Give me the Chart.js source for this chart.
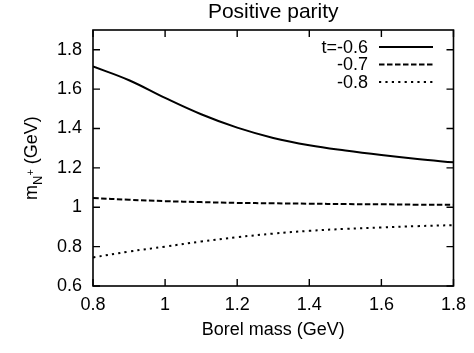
<!DOCTYPE html>
<html>
<head>
<meta charset="utf-8">
<script src="https://cdn.jsdelivr.net/npm/chart.js@4/dist/chart.umd.min.js"></script>
<style>
  html, body { margin: 0; padding: 0; background: #fff; }
  #wrap { width: 474px; height: 353px; }
</style>
</head>
<body>
<div id="wrap"><canvas id="myChart" width="474" height="353"></canvas></div>
<script>
// Borel mass sum rule plot, positive parity

var borel = [0.8, 0.9, 1.0, 1.1, 1.2, 1.3, 1.4, 1.5, 1.6, 1.7, 1.8]
var t06 = [1.715, 1.645, 1.555, 1.472, 1.404, 1.352, 1.315, 1.288, 1.265, 1.245, 1.228]
var t07 = [1.047, 1.038, 1.031, 1.026, 1.022, 1.020, 1.018, 1.016, 1.015, 1.013, 1.012]
var t08 = [0.745, 0.775, 0.800, 0.826, 0.848, 0.866, 0.880, 0.890, 0.897, 0.904, 0.909]

var seriesLabels = ['t=-0.6', '-0.7', '-0.8']
var xTicks = [0.8, 1.0, 1.2, 1.4, 1.6, 1.8]
var yTicks = [0.6, 0.8, 1.0, 1.2, 1.4, 1.6, 1.8]

var FONT = '"Liberation Sans", Arial, Helvetica, sans-serif'

function pts(ys) {
  var out = []
  for (var i = 0; i < borel.length; i++) {
    out.push({x: borel[i], y: ys[i]})
  }
  return out
}

function fmt(v) {
  return String(+Number(v).toFixed(1))
}

var dashes = [[], [5.5, 2.5], [2.2, 4.2]]

// frame, inner ticks, title, y label with sub/superscript, legend
var decor = {
  id: 'decor',
  afterDraw: function(chart) {
    var ctx = chart.ctx
    var a = chart.chartArea
    var xs = chart.scales.x
    var ys = chart.scales.y
    ctx.save()
    ctx.strokeStyle = '#000'
    ctx.lineWidth = 1.6
    ctx.strokeRect(a.left, a.top, a.right - a.left, a.bottom - a.top)

    ctx.lineWidth = 1.4
    ctx.beginPath()
    xTicks.forEach(function(v) {
      var px = xs.getPixelForValue(v)
      ctx.moveTo(px, a.bottom); ctx.lineTo(px, a.bottom - 7)
      ctx.moveTo(px, a.top); ctx.lineTo(px, a.top + 7)
    })
    yTicks.forEach(function(v) {
      var py = ys.getPixelForValue(v)
      ctx.moveTo(a.left, py); ctx.lineTo(a.left + 7, py)
      ctx.moveTo(a.right, py); ctx.lineTo(a.right - 7, py)
    })
    ctx.stroke()

    ctx.fillStyle = '#000'
    // title
    ctx.font = '21px ' + FONT
    ctx.textAlign = 'center'
    ctx.textBaseline = 'alphabetic'
    ctx.fillText('Positive parity', (a.left + a.right) / 2, 18)

    // x axis title
    ctx.font = '18px ' + FONT
    ctx.fillText('Borel mass (GeV)', (a.left + a.right) / 2, 335)

    // y axis title
    ctx.save()
    ctx.translate(37, 200)
    ctx.rotate(-Math.PI / 2)
    ctx.textAlign = 'left'
    var x = 0
    ctx.font = '18px ' + FONT
    ctx.fillText('m', x, 0); x += ctx.measureText('m').width
    ctx.font = '13px ' + FONT
    ctx.fillText('N', x, 5); x += ctx.measureText('N').width
    ctx.font = '11px ' + FONT
    ctx.fillText('+', x, -3); x += ctx.measureText('+').width
    ctx.font = '18px ' + FONT
    ctx.fillText(' (GeV)', x, 0)
    ctx.restore()

    // legend
    ctx.font = '18px ' + FONT
    ctx.textAlign = 'right'
    ctx.textBaseline = 'middle'
    var rows = [47, 64.5, 82]
    for (var i = 0; i < seriesLabels.length; i++) {
      ctx.fillText(seriesLabels[i], 368, rows[i] + 1)
      ctx.beginPath()
      ctx.setLineDash(dashes[i])
      ctx.lineWidth = 2
      ctx.moveTo(379, rows[i]); ctx.lineTo(433, rows[i])
      ctx.stroke()
    }
    ctx.setLineDash([])
    ctx.restore()
  }
}

var ctx = document.getElementById('myChart').getContext('2d')
var myChart = new Chart(ctx, {
  type: 'line',
  data: {
    datasets: [
      {label: seriesLabels[0], data: pts(t06), borderColor: '#000', borderWidth: 2, borderDash: dashes[0], pointRadius: 0, tension: 0.4, fill: false},
      {label: seriesLabels[1], data: pts(t07), borderColor: '#000', borderWidth: 2, borderDash: dashes[1], pointRadius: 0, tension: 0.4, fill: false},
      {label: seriesLabels[2], data: pts(t08), borderColor: '#000', borderWidth: 2, borderDash: dashes[2], pointRadius: 0, tension: 0.4, fill: false}
    ]
  },
  options: {
    responsive: false,
    animation: false,
    layout: { padding: { top: 30, right: 20, left: 0, bottom: 0 } },
    plugins: {
      legend: { display: false },
      title: { display: false },
      tooltip: { enabled: false }
    },
    scales: {
      x: {
        type: 'linear',
        min: 0.8,
        max: 1.8,
        grid: { display: false, drawTicks: false },
        border: { display: false },
        afterBuildTicks: function(scale) {
          scale.ticks = xTicks.map(function(v) { return {value: v} })
        },
        afterFit: function(scale) { scale.height = 67 },
        ticks: {
          color: '#000',
          font: { family: FONT, size: 18 },
          padding: 8,
          maxRotation: 0,
          callback: fmt
        }
      },
      y: {
        type: 'linear',
        min: 0.6,
        max: 1.9,
        grid: { display: false, drawTicks: false },
        border: { display: false },
        afterBuildTicks: function(scale) {
          scale.ticks = yTicks.map(function(v) { return {value: v} })
        },
        afterFit: function(scale) { scale.width = 93 },
        ticks: {
          color: '#000',
          font: { family: FONT, size: 18 },
          padding: 11,
          callback: fmt
        }
      }
    }
  },
  plugins: [decor]
})
</script>
</body>
</html>
